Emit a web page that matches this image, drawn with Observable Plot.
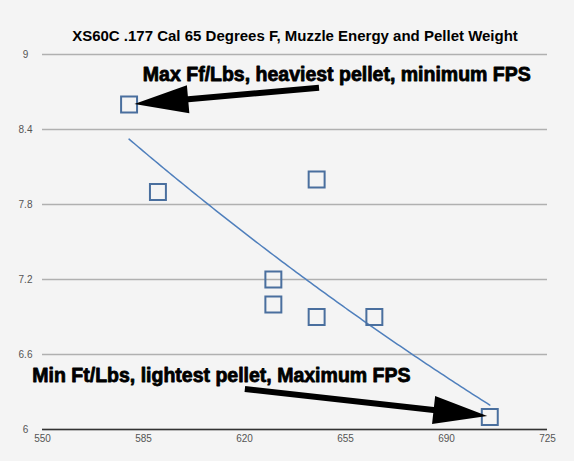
<!DOCTYPE html>
<html>
<head>
<meta charset="utf-8">
<script src="https://cdn.jsdelivr.net/npm/d3@7"></script>
<script src="https://cdn.jsdelivr.net/npm/@observablehq/plot@0.6"></script>
<style>
  body { margin: 0; background: #f4f4f4; }
</style>
</head>
<body>
<div id="chart"></div>
<script>
const velocity = [580, 590, 645, 630, 630, 645, 665, 705]; // FPS
const energy = [8.6, 7.9, 8.0, 7.2, 7.0, 6.9, 6.9, 6.1];   // ft/lbs
const xTicks = [550, 585, 620, 655, 690, 725];
const yTicks = [6, 6.6, 7.2, 7.8, 8.4, 9];
const title = "XS60C .177 Cal 65 Degrees F, Muzzle Energy and Pellet Weight";
const noteText = ["Max Ff/Lbs, heaviest pellet, minimum FPS", "Min Ft/Lbs, lightest pellet, Maximum FPS"];
const noteX = [652, 612];
const noteY = [8.84, 6.43];
const arrowFrom = [[646, 8.73], [620.3, 6.32]];
const arrowTo = [[582, 8.6], [704.3, 6.104]];

const points = velocity.map((v, i) => ({v, e: energy[i]}));
const notes = noteText.map((t, i) => ({t, x: noteX[i], y: noteY[i]}));

// exponential trendline, least squares on ln(energy)
const mx = d3.mean(velocity);
const my = d3.mean(energy, e => Math.log(e));
const b = d3.sum(points, d => (d.v - mx) * (Math.log(d.e) - my)) / d3.sum(velocity, v => (v - mx) ** 2);
const trend = d3.range(d3.min(velocity), d3.max(velocity) + 0.1, 1)
  .map(v => ({v, e: Math.exp(my + b * (v - mx))}));

// big filled arrows, drawn through the scales
function arrows(index, {x, y}) {
  const g = d3.create("svg:g");
  arrowFrom.forEach((f, i) => {
    const x1 = x(f[0]), y1 = y(f[1]), x2 = x(arrowTo[i][0]), y2 = y(arrowTo[i][1]);
    const len = Math.hypot(x2 - x1, y2 - y1);
    const ux = (x2 - x1) / len, uy = (y2 - y1) / len;
    const px = -uy, py = ux;
    const h = 54, w = 14, s = 3;
    const bx = x2 - ux * h, by = y2 - uy * h;
    const pts = [
      [x1 + px * s, y1 + py * s], [bx + px * s, by + py * s], [bx + px * w, by + py * w],
      [x2, y2],
      [bx - px * w, by - py * w], [bx - px * s, by - py * s], [x1 - px * s, y1 - py * s]
    ];
    g.append("path").attr("d", "M" + pts.join("L") + "Z").attr("fill", "black");
  });
  return g.node();
}

let chart = Plot.plot({
  width: 574,
  height: 461,
  marginLeft: 42,
  marginRight: 27,
  marginTop: 54,
  marginBottom: 32,
  style: {background: "#f4f4f4", fontFamily: "Liberation Sans, Arial, sans-serif"},
  x: {domain: [550, 725]},
  y: {domain: [6, 9]},
  marks: [
    Plot.gridY(yTicks, {stroke: "#b0b0b0", strokeOpacity: 1, strokeWidth: 1.5}),
    Plot.ruleY([6], {stroke: "#333", strokeWidth: 1.5}),
    Plot.axisX({ticks: xTicks, tickSize: 0, tickPadding: 5, fontSize: 10, fill: "#555", label: null}),
    Plot.axisY({ticks: yTicks, tickSize: 0, tickPadding: 17, textAnchor: "middle", tickFormat: d => String(d), fontSize: 10, fill: "#555", label: null}),
    Plot.line(trend, {x: "v", y: "e", stroke: "#4f7fbc", strokeWidth: 1.5}),
    Plot.dot(points, {x: "v", y: "e", symbol: "square", r: 9, stroke: "#4a6f9e", strokeWidth: 2, fill: "none"}),
    arrows,
    Plot.text(notes, {x: "x", y: "y", text: "t", fontSize: 19.5, fontWeight: "bold", fill: "black", stroke: "black", strokeWidth: 0.8}),
    Plot.text([title], {frameAnchor: "top", lineAnchor: "middle", dy: -18, fontSize: 15, fontWeight: "bold", fill: "black"})
  ]
});

d3.select("#chart").append(() => chart);
</script>
</body>
</html>
